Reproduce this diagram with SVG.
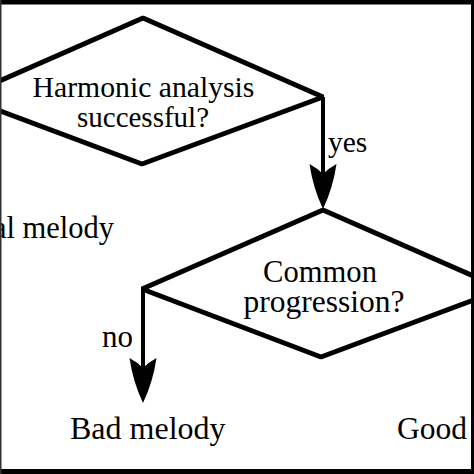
<svg xmlns="http://www.w3.org/2000/svg" width="474" height="474" viewBox="0 0 474 474">
<style>
  .dia { fill: #fff; stroke: #000; stroke-width: 5; stroke-linejoin: bevel; }
  .shaft { stroke: #000; stroke-width: 4; fill: none; }
  .head { fill: #000; stroke: none; }
  text { font-family: "Liberation Serif", "Times New Roman", serif; fill: #000; }
  .frame { fill: #000; }
</style>
<rect x="0" y="0" width="474" height="474" fill="#fff"/>
<g id="connectors">
  <g id="edge-yes">
    <line class="shaft" x1="323" y1="97" x2="323" y2="175"/>
    <path class="head" d="M323,209 Q313,188 309.5,164 Q317,168 323,174 Q329,168 336.5,164 Q333,188 323,209 Z"/>
    <text x="328" y="152" font-size="29.5">yes</text>
  </g>
  <g id="edge-no">
    <line class="shaft" x1="143" y1="289" x2="143" y2="368"/>
    <path class="head" d="M143,403 Q133,382 129.5,358 Q137,362 143,368 Q149,362 156.5,358 Q153,382 143,403 Z"/>
    <text x="102" y="347" font-size="31">no</text>
  </g>
</g>
<g id="node-harmonic">
  <polygon class="dia" points="143,18 323,97 142,164 -37,97"/>
  <text x="143.5" y="97" font-size="29.7" text-anchor="middle">Harmonic analysis</text>
  <text x="143" y="127" font-size="29" text-anchor="middle">successful?</text>
</g>
<g id="node-common">
  <polygon class="dia" points="323,210 503,289 321,357 142,289"/>
  <text x="320" y="282" font-size="30.6" text-anchor="middle">Common</text>
  <text x="324" y="312" font-size="31.5" text-anchor="middle">progression?</text>
</g>
<g id="node-left-melody">
  <text x="114" y="238" font-size="30.5" text-anchor="end">al melody</text>
</g>
<g id="node-bad">
  <text x="70" y="439" font-size="32">Bad melody</text>
</g>
<g id="node-good">
  <text x="397" y="439" font-size="31.5">Good</text>
</g>
<g id="frame">
  <rect class="frame" x="0" y="0" width="474" height="4.5"/>
  <rect class="frame" x="0" y="469" width="474" height="5"/>
  <rect class="frame" x="471" y="0" width="3" height="474"/>
  <rect x="0" y="0" width="1.5" height="474" fill="#333"/>
</g>
</svg>
